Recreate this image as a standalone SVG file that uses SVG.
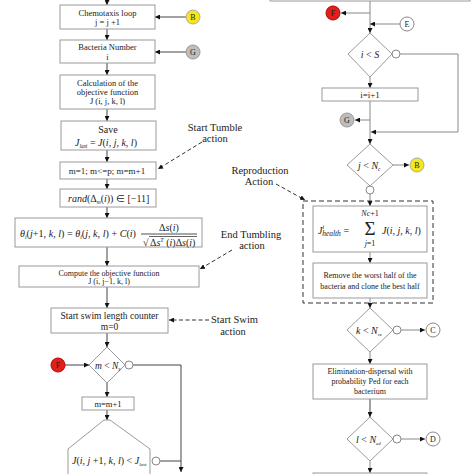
<svg xmlns="http://www.w3.org/2000/svg" width="474" height="474" viewBox="0 0 474 474">
<defs>
<marker id="ar" viewBox="0 0 10 10" refX="10" refY="5" markerWidth="5" markerHeight="5" orient="auto" markerUnits="userSpaceOnUse"><path d="M0,0 L10,5 L0,10 z" fill="#111"/></marker>
<style>
.box{fill:#fff;stroke:#9a9a9a;stroke-width:1}
.dia{fill:#fff;stroke:#9a9a9a;stroke-width:1}
.ln{fill:none;stroke:#444;stroke-width:1}
.lg{fill:none;stroke:#888;stroke-width:1}
.da{fill:none;stroke:#333;stroke-width:1;stroke-dasharray:4,2.5}
.oc{fill:#fff;stroke:#888;stroke-width:1}
.t{font-family:"Liberation Serif",serif;fill:#222;text-anchor:middle}
.s{font-family:"Liberation Serif",serif;fill:#222}
.it{font-style:italic}
.an{font-family:"Liberation Serif",serif;fill:#222;text-anchor:middle;font-size:10.5px}
.cl{font-family:"Liberation Serif",serif;fill:#222;text-anchor:middle;font-size:8px}
</style>
</defs>
<rect width="474" height="474" fill="#fff"/>

<g id="connectors">
<line class="ln" x1="107" y1="0" x2="107" y2="5" marker-end="url(#ar)"/>
<line class="ln" x1="186" y1="17" x2="155" y2="17" marker-end="url(#ar)"/>
<line class="ln" x1="107" y1="29" x2="107" y2="40" marker-end="url(#ar)"/>
<line class="ln" x1="186" y1="52" x2="155" y2="52" marker-end="url(#ar)"/>
<line class="ln" x1="107" y1="63" x2="107" y2="75" marker-end="url(#ar)"/>
<line class="ln" x1="107" y1="109" x2="107" y2="121" marker-end="url(#ar)"/>
<line class="ln" x1="107" y1="150" x2="107" y2="162" marker-end="url(#ar)"/>
<line class="ln" x1="107" y1="179" x2="107" y2="189" marker-end="url(#ar)"/>
<line class="ln" x1="107" y1="207" x2="107" y2="218" marker-end="url(#ar)"/>
<line class="ln" x1="107" y1="247" x2="107" y2="266" marker-end="url(#ar)"/>
<line class="ln" x1="107" y1="287" x2="107" y2="308" marker-end="url(#ar)"/>
<line class="ln" x1="107" y1="333" x2="107" y2="347" marker-end="url(#ar)"/>
<line class="ln" x1="65" y1="365" x2="89" y2="365" marker-end="url(#ar)"/>
<polyline class="ln" points="133,365 181,365 181,472" marker-end="url(#ar)"/>
<line class="ln" x1="107" y1="383" x2="107" y2="397" marker-end="url(#ar)"/>
<line class="ln" x1="107" y1="410" x2="107" y2="420" marker-end="url(#ar)"/>
<line class="ln" x1="160" y1="461" x2="181" y2="461"/>

<line class="da" x1="202" y1="142" x2="158" y2="169" marker-end="url(#ar)"/>
<line class="da" x1="232" y1="250" x2="200" y2="269" marker-end="url(#ar)"/>
<line class="da" x1="209" y1="320" x2="169" y2="320" marker-end="url(#ar)"/>
<line class="da" x1="276" y1="184" x2="305" y2="200" marker-end="url(#ar)"/>

<line class="lg" x1="370" y1="1" x2="370" y2="33" marker-end="url(#ar)"/>
<line class="lg" x1="370" y1="13" x2="341" y2="13" marker-end="url(#ar)"/>
<line class="lg" x1="400" y1="24" x2="370" y2="24" marker-end="url(#ar)"/>
<polyline class="lg" points="400,54 458,54 458,132 371,132" marker-end="url(#ar)"/>
<line class="lg" x1="370" y1="77" x2="370" y2="88" marker-end="url(#ar)"/>
<line class="lg" x1="370" y1="101" x2="370" y2="144" marker-end="url(#ar)"/>
<line class="lg" x1="370" y1="120" x2="355" y2="120" marker-end="url(#ar)"/>
<line class="lg" x1="393" y1="165" x2="409" y2="165" marker-end="url(#ar)"/>
<line class="lg" x1="370" y1="194" x2="370" y2="206" marker-end="url(#ar)"/>
<line class="lg" x1="370" y1="252" x2="370" y2="263" marker-end="url(#ar)"/>
<line class="lg" x1="370" y1="298" x2="370" y2="308" marker-end="url(#ar)"/>
<line class="lg" x1="401" y1="330" x2="425" y2="330" marker-end="url(#ar)"/>
<line class="lg" x1="370" y1="352" x2="370" y2="364" marker-end="url(#ar)"/>
<line class="ln" x1="370" y1="399" x2="370" y2="417" marker-end="url(#ar)"/>
<line class="lg" x1="401" y1="439" x2="425" y2="439" marker-end="url(#ar)"/>
<line class="lg" x1="370" y1="461" x2="370" y2="473" marker-end="url(#ar)"/>
</g>

<g id="chemotaxis">
<rect class="box" x="60" y="5" width="95" height="24"/>
<text class="t" x="107.5" y="15.5" font-size="8.5">Chemotaxis loop</text>
<text class="t" x="107.5" y="25" font-size="8.5">j = j +1</text>
</g>
<g id="circleB1"><circle cx="193" cy="17" r="7" fill="#f4e81a" stroke="#aaa"/><text class="cl" x="193" y="20">B</text></g>
<g id="bacteria">
<rect class="box" x="60" y="40" width="95" height="23"/>
<text class="t" x="107.5" y="50" font-size="8.5">Bacteria Number</text>
<text class="t" x="107.5" y="59.5" font-size="8.5">i</text>
</g>
<g id="circleG1"><circle cx="193" cy="52" r="7" fill="#bdbdbd" stroke="#999"/><text class="cl" x="193" y="55">G</text></g>
<g id="calc">
<rect class="box" x="60" y="75" width="95" height="34"/>
<text class="t" x="107.5" y="86" font-size="8.5">Calculation of the</text>
<text class="t" x="107.5" y="95" font-size="8.5">objective function</text>
<text class="t" x="107.5" y="104" font-size="8.5">J (i, j, k, l)</text>
</g>
<g id="save">
<rect class="box" x="61" y="121" width="95" height="29"/>
<text class="t" x="108" y="133" font-size="10">Save</text>
<text class="s it" x="75" y="145.5" font-size="10">J<tspan font-size="5.5" dy="2.5">last</tspan><tspan dy="-2.5" font-style="normal"> = </tspan>J<tspan font-style="normal">(</tspan>i<tspan font-style="normal">, </tspan>j<tspan font-style="normal">, </tspan>k<tspan font-style="normal">, </tspan>l<tspan font-style="normal">)</tspan></text>
</g>
<g id="mloop">
<rect class="box" x="60" y="162" width="96" height="17"/>
<text class="t" x="107" y="173.5" font-size="9">m=1; m&lt;=p; m=m+1</text>
</g>
<g id="rand">
<rect class="box" x="60" y="189" width="96" height="18"/>
<text class="s" x="68" y="202" font-size="10"><tspan font-style="italic">rand</tspan>(Δ<tspan font-size="5.5" dy="2" font-style="italic">m</tspan><tspan dy="-2">(</tspan><tspan font-style="italic">i</tspan>)) ∈ [−11]</text>
</g>
<g id="theta">
<rect class="box" x="15" y="218" width="187" height="29"/>
<text class="s" x="20" y="237" font-size="10.5" textLength="116" lengthAdjust="spacingAndGlyphs"><tspan font-style="italic">θ</tspan><tspan font-size="6" dy="2" font-style="italic">i</tspan><tspan dy="-2">(</tspan><tspan font-style="italic">j</tspan>+1, <tspan font-style="italic">k</tspan>, <tspan font-style="italic">l</tspan>) = <tspan font-style="italic">θ</tspan><tspan font-size="6" dy="2" font-style="italic">i</tspan><tspan dy="-2">(</tspan><tspan font-style="italic">j</tspan>, <tspan font-style="italic">k</tspan>, <tspan font-style="italic">l</tspan>) + <tspan font-style="italic">C</tspan>(<tspan font-style="italic">i</tspan>)</text>
<text class="t" x="169" y="231" font-size="10">Δ<tspan font-style="italic">s</tspan>(<tspan font-style="italic">i</tspan>)</text>
<line x1="141" y1="234" x2="197" y2="234" stroke="#222" stroke-width="0.8"/>
<text class="s" x="143" y="246" font-size="10">√</text>
<line x1="149" y1="236.5" x2="197" y2="236.5" stroke="#222" stroke-width="0.7"/>
<text class="s" x="150" y="245.5" font-size="10">Δ<tspan font-style="italic">s</tspan><tspan font-size="6" dy="-4" font-style="italic">T</tspan><tspan dy="4"> (</tspan><tspan font-style="italic">i</tspan>)Δ<tspan font-style="italic">s</tspan>(<tspan font-style="italic">i</tspan>)</text>
</g>
<g id="compute">
<rect class="box" x="19" y="266" width="180" height="21"/>
<text class="t" x="109" y="275.5" font-size="8">Compute the objective function</text>
<text class="t" x="109" y="284" font-size="8">J (i, j−1, k, l)</text>
</g>
<g id="swim">
<rect class="box" x="51" y="308" width="117" height="25"/>
<text class="t" x="109.5" y="319" font-size="9.5">Start swim length counter</text>
<text class="t" x="109.5" y="330" font-size="9.5">m=0</text>
</g>
<g id="circleF1"><circle cx="58" cy="365" r="7" fill="#e0201b" stroke="#b00"/><text class="cl" x="58" y="368">F</text></g>
<g id="dmNs">
<polygon class="dia" points="107,347 125,365 107,383 89,365"/>
<text class="s it" x="95" y="368.5" font-size="9.5">m<tspan font-style="normal"> &lt; </tspan>N<tspan font-size="5.5" dy="2">s</tspan></text>
<circle class="oc" cx="129" cy="365" r="4"/>
</g>
<g id="mplus">
<rect class="box" x="82" y="397" width="52" height="13"/>
<text class="t" x="108" y="406.5" font-size="8.5">m=m+1</text>
</g>
<g id="dJ">
<polyline class="dia" points="68,474 68,449 104,420 110,420 150,449 150,474"/>
<text class="s it" x="72" y="464" font-size="10">J<tspan font-style="normal">(</tspan>i<tspan font-style="normal">, </tspan>j<tspan font-style="normal"> +1, </tspan>k<tspan font-style="normal">, </tspan>l<tspan font-style="normal">) &lt; </tspan>J<tspan font-size="5" dy="2">last</tspan></text>
<circle class="oc" cx="156" cy="461" r="4"/>
</g>

<g id="annTumble"><text class="an" x="215" y="131">Start Tumble</text><text class="an" x="215" y="142">action</text></g>
<g id="annEnd"><text class="an" x="251" y="238">End Tumbling</text><text class="an" x="252" y="249">action</text></g>
<g id="annSwim"><text class="s" x="211" y="323" font-size="10.5">Start Swim</text><text class="an" x="233" y="335">action</text></g>
<g id="annRepro"><text class="an" x="260" y="174">Reproduction</text><text class="an" x="259" y="185">Action</text></g>

<g id="topbox"><rect class="box" x="270" y="-20" width="200" height="21"/></g>
<g id="circleF2"><circle cx="333" cy="13" r="7" fill="#e0201b" stroke="#b00"/><text class="cl" x="333" y="16">F</text></g>
<g id="circleE"><circle cx="407" cy="24" r="7" fill="#fff" stroke="#888"/><text class="cl" x="407" y="27">E</text></g>
<g id="diS">
<polygon class="dia" points="370,33 392,54 370,77 348,54"/>
<text class="s it" x="370" y="57.5" font-size="10" text-anchor="middle">i<tspan font-style="normal"> &lt; </tspan>S</text>
<circle class="oc" cx="396" cy="54" r="4"/>
</g>
<g id="iplus">
<rect class="box" x="322" y="88" width="96" height="13"/>
<text class="t" x="370" y="97.5" font-size="9">i=i+1</text>
</g>
<g id="circleG2"><circle cx="347" cy="120" r="7" fill="#bdbdbd" stroke="#999"/><text class="cl" x="347" y="123">G</text></g>
<g id="djNc">
<polygon class="dia" points="370,144 393,165 370,186 347,165"/>
<text class="s it" x="358" y="168.5" font-size="10">j<tspan font-style="normal"> &lt; </tspan>N<tspan font-size="5.5" dy="2">c</tspan></text>
<circle class="oc" cx="370" cy="190" r="4"/>
</g>
<g id="circleB2"><circle cx="417" cy="165" r="7" fill="#f4e81a" stroke="#aaa"/><text class="cl" x="417" y="168">B</text></g>
<g id="reproduction">
<rect x="303" y="201" width="130" height="102" fill="none" stroke="#333" stroke-width="1" stroke-dasharray="5,3"/>
<rect class="box" x="313" y="206" width="114" height="46"/>
<text class="s it" x="318" y="234" font-size="10">J<tspan font-size="6" dy="-5">i</tspan><tspan font-size="7.5" dx="-2" dy="7">health</tspan><tspan font-style="normal" font-size="10" dy="-2"> =</tspan></text>
<text class="t" x="370" y="235" font-size="19">Σ</text>
<text class="t it" x="370" y="216" font-size="8">Nc<tspan font-style="normal">+1</tspan></text>
<text class="t it" x="370" y="246" font-size="8">j<tspan font-style="normal">=1</tspan></text>
<text class="s it" x="382" y="234" font-size="10">J<tspan font-style="normal">(</tspan>i<tspan font-style="normal">, </tspan>j<tspan font-style="normal">, </tspan>k<tspan font-style="normal">, </tspan>l<tspan font-style="normal">)</tspan></text>
<rect class="box" x="313" y="263" width="114" height="35"/>
<text class="t" x="370" y="278" font-size="8">Remove the worst half of the</text>
<text class="t" x="370" y="289" font-size="8">bacteria and clone the best half</text>
</g>
<g id="dkNre">
<polygon class="dia" points="370,308 393,330 370,352 347,330"/>
<text class="s it" x="356" y="333.5" font-size="10">k<tspan font-style="normal"> &lt; </tspan>N<tspan font-size="5" dy="2">re</tspan></text>
<circle class="oc" cx="397" cy="330" r="4"/>
</g>
<g id="circleC"><circle cx="433" cy="330" r="7" fill="#fff" stroke="#888"/><text class="cl" x="433" y="333">C</text></g>
<g id="elimination">
<rect class="box" x="313" y="364" width="114" height="35"/>
<text class="t" x="370" y="374" font-size="8">Elimination-dispersal with</text>
<text class="t" x="370" y="384" font-size="8">probability Ped for each</text>
<text class="t" x="370" y="394" font-size="8">bacterium</text>
</g>
<g id="dlNed">
<polygon class="dia" points="370,417 393,439 370,461 347,439"/>
<text class="s it" x="356" y="442.5" font-size="10">l<tspan font-style="normal"> &lt; </tspan>N<tspan font-size="5" dy="2">ed</tspan></text>
<circle class="oc" cx="397" cy="439" r="4"/>
</g>
<g id="circleD"><circle cx="433" cy="439" r="7" fill="#fff" stroke="#888"/><text class="cl" x="433" y="442">D</text></g>
<g id="bottombox"><rect class="box" x="313" y="473" width="114" height="20"/></g>
</svg>
